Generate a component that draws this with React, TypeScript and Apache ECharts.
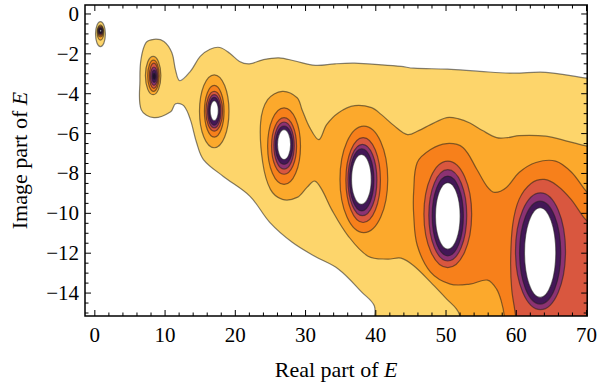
import { useEffect, useRef } from 'react';
import * as echarts from 'echarts';

type Pt = [number, number];
type Ell = [number, number, number, number]; // cx, cy, rx, ry (data units)

// ---- axis extents & ticks ----
const X_MIN = -1.4;
const X_MAX = 70.1;
const Y_MIN = -15.15;
const Y_MAX = 0.45;
const xMajorTicks = [0, 10, 20, 30, 40, 50, 60, 70];
const xMinorTicks = [2, 4, 6, 8, 12, 14, 16, 18, 22, 24, 26, 28, 32, 34, 36, 38, 42, 44, 46, 48, 52, 54, 56, 58, 62, 64, 66, 68];
const yMajorTicks = [-14, -12, -10, -8, -6, -4, -2, 0];
const yMinorTicks = [-15, -14.5, -13.5, -13, -12.5, -11.5, -11, -10.5, -9.5, -9, -8.5, -7.5, -7, -6.5, -5.5, -5, -4.5, -3.5, -3, -2.5, -1.5, -1, -0.5];

// ---- contour regions ----
// level 1 (outermost, light yellow)
const level1Regions: Pt[][] = [[
  [6.42, -3.3], [6.56, -2.3], [7.26, -1.45], [8.43, -1.27], [9.84, -1.38], [10.97, -1.95], [11.48, -2.8], [12.09, -3.35],
  [13.6, -2.88], [15.0, -2.13], [16.4, -1.77], [17.8, -1.68], [19.2, -1.97], [20.6, -2.38], [22.0, -2.5], [23.9, -2.3],
  [26.2, -2.2], [28.5, -2.36], [31.4, -2.58], [34.2, -2.5], [37.0, -2.47], [40.8, -2.55], [43.6, -2.63], [45.4, -2.72],
  [50.2, -2.77], [54.8, -2.88], [59.5, -2.97], [64.2, -2.93], [70.1, -3.22], [72, -3.3], [72, -16], [40.2, -16],
  [39.8, -14.65], [38.0, -13.95], [34.7, -12.8], [31.3, -12.15], [28.1, -11.45], [24.9, -10.45], [22.1, -9.15],
  [18.3, -8.15], [15.46, -7.3], [14.48, -6.45], [13.6, -5.3], [12.65, -4.6], [11.5, -4.5], [10.8, -4.9], [8.43, -5.2], [6.6, -4.8],
]];
const level1Ellipses: Ell[] = [[0.8, -1.01, 0.7, 0.625]];

// level 2 (orange)
const level2Regions: Pt[][] = [[
  [23.6, -5.45], [24.6, -4.3], [26.7, -3.88], [28.8, -4.2], [29.5, -4.8], [30.6, -5.7], [31.9, -6.3], [33.0, -5.55],
  [34.7, -4.95], [37.0, -4.6], [39.4, -4.7], [40.8, -5.05], [42.6, -5.6], [44.5, -6.05], [46.1, -5.85], [47.8, -5.55],
  [50.1, -5.2], [51.7, -5.25], [53.4, -5.47], [55.2, -5.85], [57.2, -6.2], [58.8, -6.2], [60.4, -6.1], [64.2, -6.13],
  [67.5, -6.4], [70.1, -6.63], [72, -6.7], [72, -16], [52.6, -16], [52.0, -15.15], [51.5, -14.8], [50.1, -14.3],
  [47.8, -13.45], [45.4, -12.63], [43.6, -12.25], [41.7, -12.3], [38.9, -12.15], [36.1, -11.15], [33.7, -9.8],
  [32.3, -8.8], [31.3, -8.38], [30.2, -8.7], [28.8, -9.2], [26.7, -9.3], [25.0, -8.8], [23.9, -7.45],
]];
const level2Ellipses: Ell[] = [
  [0.8, -0.93, 0.47, 0.38],
  [8.3, -3.09, 1.1, 0.96],
  [17.0, -4.88, 2.1, 1.83],
];

// level 3 (dark orange)
const level3Regions: Pt[][] = [[
  [45.4, -8.85], [45.9, -7.45], [47.8, -6.8], [50.1, -6.5], [52.4, -6.7], [54.4, -7.8], [55.8, -8.63], [56.9, -8.95],
  [58.6, -8.7], [60.4, -7.95], [62.8, -7.45], [65.6, -7.38], [67.9, -7.95], [70.1, -8.95], [72, -9.5], [72, -16],
  [58.4, -16], [58.3, -15.15], [57.9, -14.45], [57.2, -13.8], [55.9, -13.35], [53.4, -13.55], [50.6, -13.55],
  [47.8, -12.95], [45.9, -11.6], [45.4, -10.1],
]];
const level3Ellipses: Ell[] = [
  [0.8, -0.88, 0.38, 0.27],
  [8.35, -3.1, 0.82, 0.78],
  [17.0, -4.88, 1.4, 1.3],
  [26.94, -6.63, 2.34, 1.92],
  [38.3, -8.3, 3.4, 2.67],
];

// level 4 (red)
const level4Regions: Pt[][] = [[
  [59.2, -12.3], [59.35, -13.8], [59.9, -15.15], [60.0, -16], [72, -16], [72, -11], [70.6, -10.55], [69.6, -10.2],
  [67.8, -9.3], [65.8, -8.6], [64.0, -8.3], [62.1, -8.5], [60.4, -9.3], [59.5, -10.55],
]];
const level4Ellipses: Ell[] = [
  [0.8, -0.86, 0.34, 0.22],
  [8.4, -3.1, 0.63, 0.63],
  [17.0, -4.88, 1.19, 1.0],
  [26.94, -6.62, 1.78, 1.42],
  [38.2, -8.33, 2.46, 2.13],
  [50.25, -10.05, 3.4, 2.67],
];

// level 5 (purple)
const level5Ellipses: Ell[] = [
  [8.42, -3.12, 0.5, 0.46],
  [17.0, -4.88, 0.96, 0.83],
  [26.94, -6.6, 1.45, 1.18],
  [38.1, -8.33, 2.06, 1.79],
  [50.25, -10.1, 2.7, 2.29],
  [63.45, -11.9, 3.56, 2.93],
];

// level 6 (dark purple)
const level6Ellipses: Ell[] = [
  [0.8, -0.85, 0.3, 0.17],
  [8.45, -3.12, 0.33, 0.31],
  [17.0, -4.88, 0.8, 0.7],
  [26.94, -6.58, 1.24, 0.96],
  [38.0, -8.32, 1.73, 1.56],
  [50.25, -10.13, 2.22, 2.0],
  [63.4, -11.97, 2.93, 2.58],
];

// level 7 (near black)
const level7Ellipses: Ell[] = [
  [0.8, -0.84, 0.22, 0.12],
  [8.45, -3.13, 0.18, 0.15],
];

// level 8 (highest, white)
const level8Ellipses: Ell[] = [
  [0.82, -0.84, 0.1, 0.05],
  [17.0, -4.85, 0.58, 0.5],
  [26.94, -6.55, 0.94, 0.75],
  [37.95, -8.3, 1.41, 1.25],
  [50.25, -10.13, 1.76, 1.67],
  [63.4, -11.97, 2.23, 2.25],
];

const levelColors = ['#FDD56B', '#FCA92C', '#F7801B', '#D9573F', '#8C3272', '#431757', '#230C33', '#FFFFFF'];
const LINE = 'rgba(30,30,30,0.55)';
const FONT = '"Liberation Serif", "Times New Roman", serif';

const regionsByLevel: Pt[][][] = [level1Regions, level2Regions, level3Regions, level4Regions, [], [], [], []];
const ellipsesByLevel: Ell[][] = [level1Ellipses, level2Ellipses, level3Ellipses, level4Ellipses, level5Ellipses, level6Ellipses, level7Ellipses, level8Ellipses];

const fmtNum = (v: number) => (v < 0 ? '\u2212' + Math.abs(v) : String(v));

export default function App() {
  const ref = useRef<HTMLDivElement>(null);
  useEffect(() => {
    if (!ref.current) return;
    const chart = echarts.init(ref.current, undefined, { renderer: 'svg' });
    const series: any[] = [];
    for (let lv = 0; lv < 8; lv++) {
      const fill = levelColors[lv];
      regionsByLevel[lv].forEach((poly) => {
        series.push({
          type: 'custom',
          coordinateSystem: 'cartesian2d',
          clip: true,
          silent: true,
          z: 2 + lv,
          data: poly,
          renderItem: (params: any, api: any) => {
            if (params.dataIndex !== 0) return null;
            return {
              type: 'polygon',
              shape: { points: poly.map((p) => api.coord(p)), smooth: 0.35 },
              style: { fill, stroke: LINE, lineWidth: 1.2 },
            };
          },
        });
      });
      const ells = ellipsesByLevel[lv];
      if (ells.length) {
        series.push({
          type: 'custom',
          coordinateSystem: 'cartesian2d',
          clip: true,
          silent: true,
          z: 2 + lv,
          data: ells,
          renderItem: (params: any, api: any) => {
            const c = api.coord([api.value(0), api.value(1)]);
            const s = api.size([api.value(2), api.value(3)]);
            return {
              type: 'ellipse',
              shape: { cx: c[0], cy: c[1], rx: s[0], ry: s[1] },
              style: { fill, stroke: LINE, lineWidth: 1.2 },
            };
          },
        });
      }
    }
    // ticks on all four sides
    const xTickData = [...xMajorTicks.map((v) => [v, Y_MIN, 1]), ...xMinorTicks.map((v) => [v, Y_MIN, 0])];
    const yTickData = [...yMajorTicks.map((v) => [X_MIN, v, 1]), ...yMinorTicks.map((v) => [X_MIN, v, 0])];
    series.push({
      type: 'custom', coordinateSystem: 'cartesian2d', clip: false, silent: true, z: 20,
      data: xTickData,
      renderItem: (params: any, api: any) => {
        const p = api.coord([api.value(0), api.value(1)]);
        const len = api.value(2) ? 6 : 3.5;
        const top = params.coordSys.y;
        const bottom = top + params.coordSys.height;
        const st = { stroke: '#000', lineWidth: 1 };
        return {
          type: 'group', children: [
            { type: 'line', shape: { x1: p[0], y1: bottom, x2: p[0], y2: bottom - len }, style: st },
            { type: 'line', shape: { x1: p[0], y1: top, x2: p[0], y2: top + len }, style: st },
          ],
        };
      },
    });
    series.push({
      type: 'custom', coordinateSystem: 'cartesian2d', clip: false, silent: true, z: 20,
      data: yTickData,
      renderItem: (params: any, api: any) => {
        const p = api.coord([api.value(0), api.value(1)]);
        const len = api.value(2) ? 6 : 3.5;
        const left = params.coordSys.x;
        const right = left + params.coordSys.width;
        const st = { stroke: '#000', lineWidth: 1 };
        return {
          type: 'group', children: [
            { type: 'line', shape: { x1: left, y1: p[1], x2: left + len, y2: p[1] }, style: st },
            { type: 'line', shape: { x1: right, y1: p[1], x2: right - len, y2: p[1] }, style: st },
          ],
        };
      },
    });

    chart.setOption({
      animation: false,
      backgroundColor: '#fff',
      grid: { left: 80, top: 5, width: 509, height: 312, show: true, borderColor: '#000', borderWidth: 1.5, backgroundColor: 'transparent', z: 30 },
      xAxis: {
        type: 'value', min: X_MIN, max: X_MAX, splitNumber: 7,
        axisLine: { show: false }, axisTick: { show: false }, splitLine: { show: false },
        axisLabel: {
          color: '#000', fontSize: 21, fontFamily: FONT, margin: 8, showMinLabel: false, showMaxLabel: false,
          formatter: (v: number) => (Math.abs(v - Math.round(v / 10) * 10) < 1e-6 ? fmtNum(Math.round(v)) : ''),
        },
        name: 'Real part of {i|E}', nameLocation: 'middle', nameGap: 42,
        nameTextStyle: { color: '#000', fontSize: 22, fontFamily: FONT, rich: { i: { fontStyle: 'italic', fontSize: 22, fontFamily: FONT, color: '#000' } } },
      },
      yAxis: {
        type: 'value', min: Y_MIN, max: Y_MAX, splitNumber: 8,
        axisLine: { show: false }, axisTick: { show: false }, splitLine: { show: false },
        axisLabel: {
          color: '#000', fontSize: 21, fontFamily: FONT, margin: 6, showMinLabel: false, showMaxLabel: false,
          formatter: (v: number) => (Math.abs(v - Math.round(v / 2) * 2) < 1e-6 ? fmtNum(Math.round(v)) : ''),
        },
        name: 'Image part of {i|E}', nameLocation: 'middle', nameGap: 55, nameRotate: 90,
        nameTextStyle: { color: '#000', fontSize: 22, fontFamily: FONT, rich: { i: { fontStyle: 'italic', fontSize: 22, fontFamily: FONT, color: '#000' } } },
      },
      series,
    });
    return () => chart.dispose();
  }, []);
  return <div ref={ref} style={{ position: 'fixed', left: 0, top: 0, width: 600, height: 385 }} />;
}
